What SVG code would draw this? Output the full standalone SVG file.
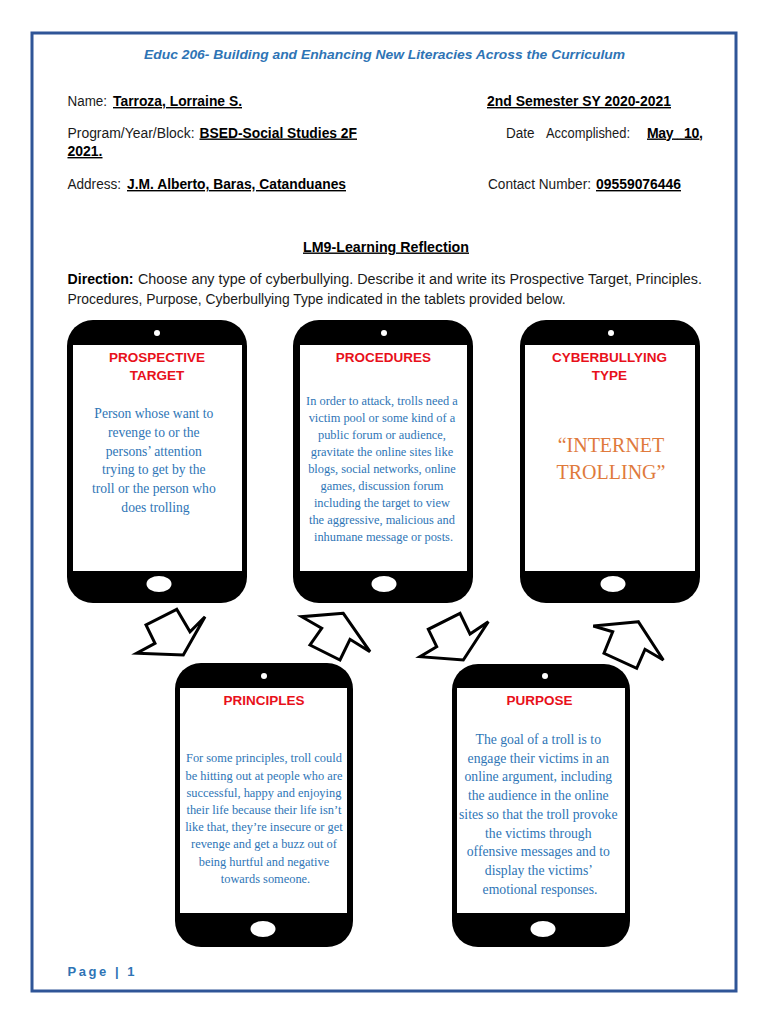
<svg xmlns="http://www.w3.org/2000/svg" width="768" height="1024" viewBox="0 0 768 1024">
<style>
.hd{font-family:"Liberation Sans",Arial,sans-serif;font-size:14px;fill:#1a1a1a}
.b{font-weight:bold;fill:#000}
.u{text-decoration:underline}
.title{font-family:"Liberation Sans",Arial,sans-serif;font-size:13px;font-weight:bold;font-style:italic;fill:#2E74B5}
.head{font-family:"Liberation Sans",Arial,sans-serif;font-size:13.5px;font-weight:bold;fill:#E8101A;text-anchor:middle}
.body{font-family:"Liberation Serif","Times New Roman",serif;fill:#2E75B6;text-anchor:middle}
.big{font-family:"Liberation Serif","Times New Roman",serif;font-size:20px;fill:#E07A3C;text-anchor:middle}
.case{fill:#000}
.scr{fill:#fff}
.arrow{fill:#fff;stroke:#000;stroke-width:3;stroke-linejoin:miter}
.foot{font-family:"Liberation Sans",Arial,sans-serif;font-size:13px;font-weight:bold;fill:#2E74B5}
</style>
<rect x="0" y="0" width="768" height="1024" fill="#fff"/>
<rect x="32" y="33" width="704" height="958" fill="none" stroke="#2F5597" stroke-width="3"/>

<g id="header">
<text class="title" x="144" y="59" textLength="481" lengthAdjust="spacingAndGlyphs">Educ 206- Building and Enhancing New Literacies Across the Curriculum</text>
<text class="hd" x="67.5" y="106" textLength="39.5" lengthAdjust="spacingAndGlyphs">Name:</text>
<text class="hd b u" x="113" y="106" textLength="129" lengthAdjust="spacingAndGlyphs">Tarroza, Lorraine S.</text>
<text class="hd b u" x="487" y="106" textLength="184" lengthAdjust="spacingAndGlyphs">2nd Semester SY 2020-2021</text>
<text class="hd" x="67.5" y="137.5" textLength="127" lengthAdjust="spacingAndGlyphs">Program/Year/Block:</text>
<text class="hd b u" x="199.5" y="137.5" textLength="157.5" lengthAdjust="spacingAndGlyphs">BSED-Social Studies 2F</text>
<text class="hd" x="506" y="137.5" textLength="28.5" lengthAdjust="spacingAndGlyphs">Date</text>
<text class="hd" x="546" y="137.5" textLength="84" lengthAdjust="spacingAndGlyphs">Accomplished:</text>
<text class="hd b u" x="647" y="137.5" textLength="56" lengthAdjust="spacing" xml:space="preserve">May   10,</text>
<text class="hd b u" x="67.5" y="156" textLength="35" lengthAdjust="spacingAndGlyphs">2021.</text>
<text class="hd" x="67.5" y="189" textLength="53.5" lengthAdjust="spacingAndGlyphs">Address:</text>
<text class="hd b u" x="127" y="189" textLength="219" lengthAdjust="spacingAndGlyphs">J.M. Alberto, Baras, Catanduanes</text>
<text class="hd" x="488" y="189" textLength="103" lengthAdjust="spacingAndGlyphs">Contact Number:</text>
<text class="hd b u" x="596" y="189" textLength="85" lengthAdjust="spacingAndGlyphs">09559076446</text>
<text class="hd b u" x="303" y="251.5" textLength="166" lengthAdjust="spacingAndGlyphs">LM9-Learning Reflection</text>
<text class="hd b" x="67.5" y="284" textLength="66" lengthAdjust="spacingAndGlyphs">Direction:</text>
<text class="hd" x="138" y="284" textLength="564" lengthAdjust="spacingAndGlyphs">Choose any type of cyberbullying. Describe it and write its Prospective Target, Principles.</text>
<text class="hd" x="67.5" y="304" textLength="498" lengthAdjust="spacingAndGlyphs">Procedures, Purpose, Cyberbullying Type indicated in the tablets provided below.</text>
</g>

<g id="phone-prospective-target">
<rect class="case" x="67" y="320" width="180" height="283" rx="26"/>
<rect class="scr" x="73" y="345" width="169" height="226"/>
<circle class="scr" cx="157" cy="333" r="3"/>
<ellipse class="scr" cx="159" cy="584" rx="12.5" ry="8"/>
<text class="head" x="157" y="362">PROSPECTIVE</text>
<text class="head" x="157" y="380">TARGET</text>
<text class="body" font-size="13.6" x="155.5">
<tspan x="155.5" y="418.3">Person whose want to</tspan>
<tspan x="155.5" y="437">revenge to or the</tspan>
<tspan x="155.5" y="455.7">persons’ attention</tspan>
<tspan x="155.5" y="474.4">trying to get by the</tspan>
<tspan x="155.5" y="493.1">troll or the person who</tspan>
<tspan x="155.5" y="511.8">does trolling</tspan>
</text>
</g>

<g id="phone-procedures">
<rect class="case" x="293" y="320" width="180" height="283" rx="26"/>
<rect class="scr" x="300" y="345" width="167" height="226"/>
<circle class="scr" cx="384" cy="333" r="3"/>
<ellipse class="scr" cx="384" cy="584" rx="12.5" ry="8"/>
<text class="head" x="383.5" y="361.5">PROCEDURES</text>
<text class="body" font-size="12.4" x="383.5">
<tspan x="383.5" y="404.5">In order to attack, trolls need a</tspan>
<tspan x="383.5" y="421.5">victim pool or some kind of a</tspan>
<tspan x="383.5" y="438.5">public forum or audience,</tspan>
<tspan x="383.5" y="455.5">gravitate the online sites like</tspan>
<tspan x="383.5" y="472.5">blogs, social networks, online</tspan>
<tspan x="383.5" y="489.5">games, discussion forum</tspan>
<tspan x="383.5" y="506.5">including the target to view</tspan>
<tspan x="383.5" y="523.5">the aggressive, malicious and</tspan>
<tspan x="383.5" y="540.5">inhumane message or posts.</tspan>
</text>
</g>

<g id="phone-cyberbullying-type">
<rect class="case" x="520" y="320" width="180" height="283" rx="26"/>
<rect class="scr" x="525" y="345" width="170" height="226"/>
<circle class="scr" cx="611" cy="333" r="3"/>
<ellipse class="scr" cx="613" cy="584" rx="12.5" ry="8"/>
<text class="head" x="609.5" y="362">CYBERBULLYING</text>
<text class="head" x="609.5" y="380">TYPE</text>
<text class="big" x="611" y="451.5">“INTERNET</text>
<text class="big" x="611" y="478.5">TROLLING”</text>
</g>

<g id="phone-principles">
<rect class="case" x="175" y="663" width="178" height="284" rx="26"/>
<rect class="scr" x="180" y="688" width="167" height="225"/>
<circle class="scr" cx="264" cy="676" r="3"/>
<ellipse class="scr" cx="263" cy="929" rx="12.5" ry="8"/>
<text class="head" x="264" y="705">PRINCIPLES</text>
<text class="body" font-size="12.4" x="265.5">
<tspan x="265.5" y="762.3">For some principles, troll could</tspan>
<tspan x="265.5" y="779.5">be hitting out at people who are</tspan>
<tspan x="265.5" y="796.7">successful, happy and enjoying</tspan>
<tspan x="265.5" y="813.9">their life because their life isn’t</tspan>
<tspan x="265.5" y="831.1">like that, they’re insecure or get</tspan>
<tspan x="265.5" y="848.3">revenge and get a buzz out of</tspan>
<tspan x="265.5" y="865.5">being hurtful and negative</tspan>
<tspan x="265.5" y="882.7">towards someone.</tspan>
</text>
</g>

<g id="phone-purpose">
<rect class="case" x="452" y="664" width="178" height="283" rx="26"/>
<rect class="scr" x="457" y="688" width="168" height="225"/>
<circle class="scr" cx="545" cy="676" r="3"/>
<ellipse class="scr" cx="543" cy="929" rx="12.5" ry="8"/>
<text class="head" x="539.5" y="705">PURPOSE</text>
<text class="body" font-size="13.7" x="540">
<tspan x="540" y="744">The goal of a troll is to</tspan>
<tspan x="540" y="762.7">engage their victims in an</tspan>
<tspan x="540" y="781.4">online argument, including</tspan>
<tspan x="540" y="800.1">the audience in the online</tspan>
<tspan x="540" y="818.8">sites so that the troll provoke</tspan>
<tspan x="540" y="837.5">the victims through</tspan>
<tspan x="540" y="856.2">offensive messages and to</tspan>
<tspan x="540" y="874.9">display the victims’</tspan>
<tspan x="540" y="893.6">emotional responses.</tspan>
</text>
</g>

<g id="connectors">
<polygon class="arrow" points="176.7,609.3 146,625 155,643.3 136.7,653.3 183.3,655 205,616.7 190,631.7"/>
<polygon class="arrow" points="343.3,613.3 301.7,616.7 321.7,628.3 310,645 340,660 350,639.3 370,651.7"/>
<polygon class="arrow" points="460,613.3 428.3,629.3 436.7,646.7 420,656.7 463.3,660 488.3,621.7 470,634"/>
<polygon class="arrow" points="638.3,621.7 593.3,626 612.7,631.7 604,653.3 636.7,668.3 645,649.3 663.3,660"/>
</g>

<g id="footer">
<text class="foot" x="67.5" y="976" textLength="67" lengthAdjust="spacing">Page | 1</text>
</g>
</svg>
